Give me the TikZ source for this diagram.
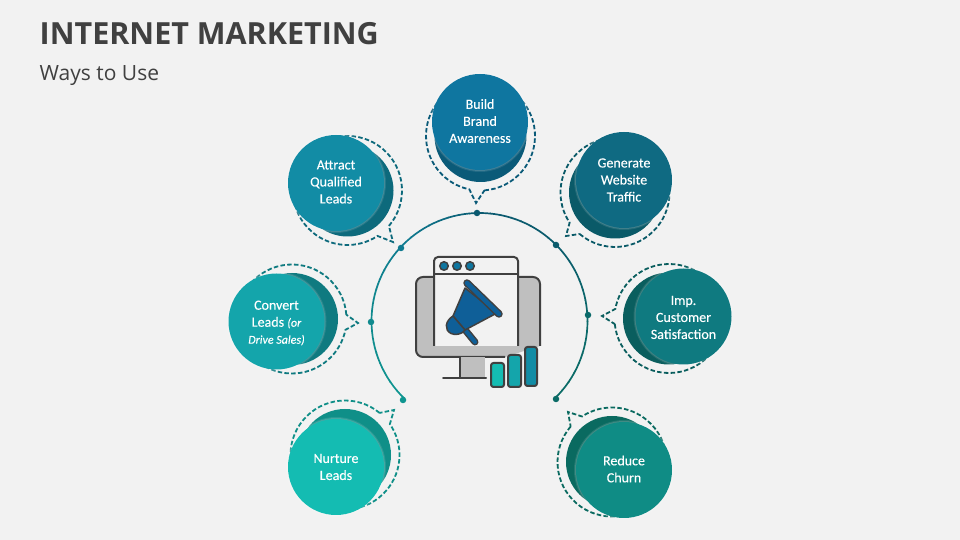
\documentclass[tikz,border=0pt]{standalone}
\usepackage{fontspec}
\setmainfont[FakeBold=0.25]{Carlito}
\newfontfamily\titlefont{Open Sans}
\usetikzlibrary{calc}
\definecolor{bg}{HTML}{F2F2F2}
\definecolor{ink}{HTML}{404040}
\definecolor{cBuild}{HTML}{0F76A0}\definecolor{dBuild}{HTML}{0A5A78}
\definecolor{cAttract}{HTML}{128CA5}\definecolor{dAttract}{HTML}{0D6A7C}
\definecolor{cGen}{HTML}{0F6A82}\definecolor{dGen}{HTML}{0A5A68}
\definecolor{cImp}{HTML}{0F7A80}\definecolor{dImp}{HTML}{0A5E5E}
\definecolor{cRed}{HTML}{0F8C85}\definecolor{dRed}{HTML}{0A6A60}
\definecolor{cNur}{HTML}{14BCB2}\definecolor{dNur}{HTML}{0F8F88}
\definecolor{cCon}{HTML}{14A5AB}\definecolor{dCon}{HTML}{0F7A80}
\definecolor{megablue}{HTML}{0F5F98}
\definecolor{sA}{HTML}{0F9590}\definecolor{sB}{HTML}{108A8E}\definecolor{sC}{HTML}{0F7A90}
\definecolor{sD}{HTML}{0B5A70}\definecolor{sE}{HTML}{0B5C6C}\definecolor{sF}{HTML}{0B6A6A}\definecolor{sG}{HTML}{0B6B66}
\tikzset{
  x=1pt,y=1pt,
  mainball/.style={circle,minimum size=96pt,inner sep=0pt},
  balltext/.style={inner sep=0pt,text=white,align=center,font=\fontsize{14}{17}\selectfont},
  bubbledash/.style={line width=1.8pt,dash pattern=on 4.5pt off 2.3pt},
  arcdot/.style={circle,inner sep=0pt,minimum size=6.5pt},
  iconline/.style={draw=ink,line width=2pt,line join=round},
  barbox/.style={draw=ink,line width=2pt,rounded corners=2.5pt},
}
% name, dark centre x,y, tip x,y, dark colour, main centre x,y, text; \tsh = text offset
\newcommand{\ballgroup}[9]{%
  \coordinate (#1back) at (#2,{540-#3});
  \coordinate (#1tip) at (#4,{540-#5});
  \pgfmathsetmacro{\ta}{atan2((540-#5)-(540-#3),#4-#2)}
  \draw[bubbledash,draw=#6] ($(#1back)+({\ta+8}:54.5)$)
     arc[start angle={\ta+8},delta angle=344,radius=54.5] -- (#1tip) -- cycle;
  \fill[#6] (#1back) circle[radius=46];
  \fill[white,opacity=.10] (#7,{540-#8}) circle[radius=50];
  \fill[white,opacity=.14] (#7,{540-#8}) circle[radius=49];
  \node[mainball,fill=c#1] (#1) at (#7,{540-#8}) {};
  \node[balltext,yshift=\tsh pt] (#1text) at (#1.center) {#9};
}
\begin{document}
\begin{tikzpicture}
\useasboundingbox (0,0) rectangle (960,540);
\fill[bg] (0,0) rectangle (960,540);

\node[anchor=base west,inner sep=0pt,text=ink,font=\titlefont\bfseries\fontsize{30.5}{36}\selectfont] (title) at (39.5,495) {INTERNET MARKETING};
\node[anchor=base west,inner sep=0pt,text=ink,font=\titlefont\fontsize{21}{24}\selectfont] (subtitle) at (39.5,459) {Ways to Use};

% ring
\coordinate (ringc) at (479.5,219);
\foreach \a/\b/\ca/\cb in {226/180/sA/sB,180/135/sB/sC,135/90/sC/sD,90/45/sD/sE,45/0/sE/sF,0/-45.6/sF/sG}{
  \foreach \i in {0,...,7}{
    \pgfmathsetmacro{\st}{\a+(\b-\a)*\i/8}
    \pgfmathsetmacro{\dl}{(\b-\a)/8-0.3}
    \pgfmathsetmacro{\pc}{100-\i*12.5}
    \draw[line width=1.7pt,color=\ca!\pc!\cb] ($(ringc)+(\st:108)$) arc[start angle=\st,delta angle=\dl,radius=108];
  }
}
\node[arcdot,fill=sD] (dtop) at (477,327) {};
\node[arcdot,fill=sC] (dul) at (401,292) {};
\node[arcdot,fill=sB] (dl) at (371,218) {};
\node[arcdot,fill=sA] (dll) at (403,140) {};
\node[arcdot,fill=sE] (dur) at (556,295) {};
\node[arcdot,fill=sF] (dr) at (588,225) {};
\node[arcdot,fill=sG] (dlr) at (556,141) {};

\def\tsh{1}
\ballgroup{Build}{480.5}{136}{476}{203}{dBuild}{480}{122}{Build\\Brand\\Awareness}
\ballgroup{Attract}{347.5}{190.5}{393}{242}{dAttract}{336}{183}{Attract\\Qualified\\Leads}
\def\tsh{0}
\ballgroup{Gen}{615}{192.5}{566}{236}{dGen}{624}{180}{Generate\\Website\\Traffic}
\def\tsh{-1}
\ballgroup{Imp}{669}{318.5}{602}{316}{dImp}{683.5}{316.5}{Imp.\\Customer\\Satisfaction}
\def\tsh{1}
\ballgroup{Red}{612}{462}{568}{412}{dRed}{624}{470}{Reduce\\Churn}
\def\tsh{0}
\ballgroup{Nur}{345}{455}{394}{410}{dNur}{336}{467}{Nurture\\Leads}
\def\tsh{-1.5}
\ballgroup{Con}{292}{319}{358}{323}{dCon}{276.5}{321.5}{Convert\\Leads {\itshape\fontsize{12}{17}\selectfont(or}\\{\itshape\fontsize{12}{17}\selectfont Drive Sales)}}

% monitor
\fill[black!25] (505,183) -- (423,183) to[out=180,in=-90] (416,190) -- (416,256) to[out=90,in=180] (423,263) -- (533,263) to[out=0,in=90] (540,256) -- (540,194) -- cycle;
\draw[iconline,rounded corners=7pt] (505,183) -- (416,183) -- (416,263) -- (540,263) -- (540,194);
\fill[black!25] (460,183) rectangle (485,163);
\draw[iconline] (460,183) -- (460,162);
\draw[iconline,line cap=round] (443,162) -- (486,162);
% window
\fill[bg] (434,194) -- (434,283) [rounded corners=3pt] -- (518,283) [sharp corners] -- (518,194) -- cycle;
\draw[iconline,rounded corners=4pt] (434,194) -- (434,283) -- (518,283) -- (518,194);
\draw[iconline] (434,266) -- (518,266);
\foreach \n/\dx in {wa/444,wb/457,wc/470}{
  \node[circle,draw=ink,line width=1.5pt,fill=cBuild,minimum size=8.5pt,inner sep=0pt] (\n) at (\dx,274) {};
}
% megaphone
\draw[ink,line width=7pt,line cap=round] (466,209) -- (475,198);
\draw[megablue,line width=4pt,line cap=round] (466,209) -- (475,198);
\draw[ink,line width=1.5pt,fill=megablue,line join=round] (465,252) -- (497,227) -- (465,210) -- (453,224) -- cycle;
\draw[ink,line width=1.5pt,fill=megablue,line join=round] (453,224) .. controls (445,219) and (444,210) .. (451,206.5) .. controls (455,204.5) and (462,205.5) .. (465,210) -- cycle;
\draw[ink,line width=7.5pt,line cap=round] (467,257) -- (499,226);
\draw[megablue,line width=4.5pt,line cap=round] (467,257) -- (499,226);
% bars
\draw[barbox,fill=cNur] (491,153) rectangle (504,177);
\draw[barbox,fill=cCon] (508,153) rectangle (521,185);
\draw[barbox,fill=cAttract] (525,154) rectangle (537,193);
\end{tikzpicture}
\end{document}
